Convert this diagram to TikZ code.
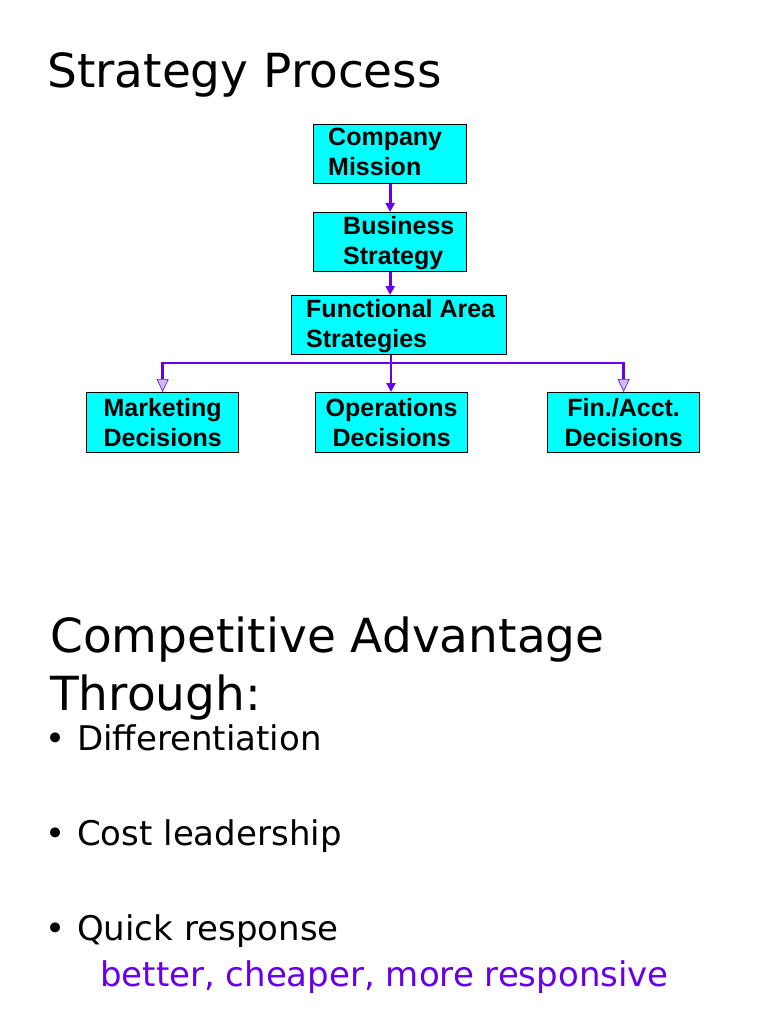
\documentclass[tikz,border=0pt]{standalone}
\usepackage{fontspec}
\setmainfont{DejaVu Sans}
\newfontfamily\boxfont{Liberation Sans}
\usetikzlibrary{arrows.meta}
\definecolor{cy}{RGB}{0,255,255}
\definecolor{pu}{RGB}{102,0,230}
\definecolor{lav}{RGB}{200,190,240}
\tikzset{
 bx/.style={draw=black,line width=1.3pt,fill=cy,minimum width=153pt,minimum height=59pt,anchor=north west,inner sep=0pt},
 bt/.style={font=\boxfont\bfseries\fontsize{25}{30}\selectfont,align=left,anchor=north west,inner sep=0pt},
 conn/.style={draw=pu,line width=2.8pt},
 sol/.style={conn,-{Triangle[length=9pt,width=9pt]}},
 hol/.style={conn,-{Triangle[length=13pt,width=12pt,fill=lav,line width=0.6pt]}},
 tx/.style={anchor=base west,inner sep=0pt}
}
\begin{document}
\begin{tikzpicture}[x=1pt,y=-1pt]
\useasboundingbox (0,0) rectangle (768,1024);
\node[tx,font=\fontsize{47}{50}\selectfont] (title) at (47,88) {Strategy Process};
\node[bx] (cm) at (313,124) {};
\node[bt] at (328,128) {Company\\Mission};
\node[bx] (bs) at (313,212) {};
\node[bt] at (343,216) {Business\\Strategy};
\node[bx,minimum width=215pt] (fa) at (291,295) {};
\node[bt] at (306,299) {Functional Area\\Strategies};
\node[bx,minimum width=152pt,minimum height=60pt] (mk) at (86,392) {};
\node[bt,align=center,anchor=center] at (mk.center) {Marketing\\Decisions};
\node[bx,minimum width=152pt,minimum height=60pt] (op) at (315,392) {};
\node[bt,align=center,anchor=center] at (op.center) {Operations\\Decisions};
\node[bx,minimum width=152pt,minimum height=60pt] (fi) at (547,392) {};
\node[bt,align=center,anchor=center] at (fi.center) {Fin./Acct.\\Decisions};
\draw[sol] (cm.south) -- (bs.north);
\draw[sol] (bs.south) -- (bs.south |- fa.north);
\coordinate (j) at (391,363);
\draw[conn] (j |- fa.south) -- (j);
\draw[hol] (j) -| (mk.north);
\draw[hol] (j) -| (fi.north);
\draw[sol] (j) -- (j |- op.north);
\node[tx,font=\fontsize{47}{60}\selectfont] (ca) at (50,652) {Competitive Advantage};
\node[tx,font=\fontsize{47}{60}\selectfont] (th) at (50,710) {Through:};
\node[tx,font=\fontsize{34}{36}\selectfont] (b1) at (45,750) {•\hspace{12pt}Differentiation};
\node[tx,font=\fontsize{34}{36}\selectfont] (b2) at (45,845) {•\hspace{12pt}Cost leadership};
\node[tx,font=\fontsize{34}{36}\selectfont] (b3) at (45,940) {•\hspace{12pt}Quick response};
\node[tx,font=\fontsize{34}{36}\selectfont,text=pu] (bc) at (100,986) {better, cheaper, more responsive};
\end{tikzpicture}
\end{document}
